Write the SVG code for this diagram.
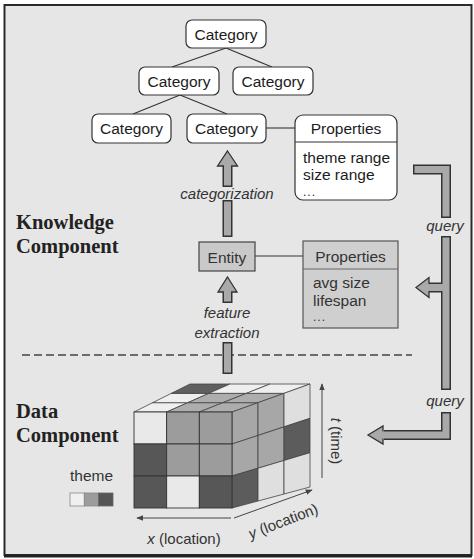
<svg xmlns="http://www.w3.org/2000/svg" width="474" height="559" viewBox="0 0 474 559">
<defs>
<style>
.t{font-family:"Liberation Sans",Arial,sans-serif;font-size:15.5px;fill:#1c1c1c}
.c{text-anchor:middle}
.dots{font-family:"Liberation Sans",Arial,sans-serif;font-size:12px;letter-spacing:1px}
.it{font-family:"Liberation Sans",Arial,sans-serif;font-style:italic;font-size:15px;fill:#333;text-anchor:middle}
.ax{font-family:"Liberation Sans",Arial,sans-serif;font-size:15px;fill:#333;text-anchor:middle}
.big{font-family:"Liberation Serif","Times New Roman",serif;font-weight:bold;font-size:20.5px;fill:#222}
.cat{fill:#fff;stroke:#333;stroke-width:1.2}
.ln{stroke:#333;stroke-width:1.1;fill:none}
.ol{stroke:#333;stroke-width:10;fill:none;stroke-linejoin:miter}
.in{stroke:#a9a9a9;stroke-width:7;fill:none;stroke-linejoin:miter}
.hd{fill:#a9a9a9;stroke:#333;stroke-width:1.3;stroke-linejoin:miter}
.f{stroke:#333;stroke-width:0.9}
.s{stroke:#444;stroke-width:0.8}
.Lf{fill:#e9e9e9}.Gf{fill:#9c9c9c}.Df{fill:#575757}
.Lr{fill:#dfdfdf}.Gr{fill:#a7a7a7}.Dr{fill:#5c5c5c}
.Lt{fill:#efefef}.Gt{fill:#adadad}.Dt{fill:#606060}
.axis{stroke:#444;stroke-width:1;fill:none}
</style>
<marker id="ah" viewBox="0 0 10 10" refX="9" refY="5" markerWidth="7" markerHeight="7" orient="auto" markerUnits="userSpaceOnUse">
<path d="M0,1 L10,5 L0,9 Z" fill="#444"/>
</marker>
</defs>

<rect x="0" y="0" width="474" height="559" fill="#ffffff"/>
<rect id="frame" x="4.5" y="5" width="467" height="550" fill="#e6e6e6" stroke="#2a2a2a" stroke-width="2"/>
<line x1="4" y1="556" x2="472" y2="556" stroke="#222" stroke-width="3"/>

<g id="connectors">
<line class="ln" x1="226" y1="48" x2="172" y2="67"/>
<line class="ln" x1="226" y1="48" x2="272" y2="67"/>
<line class="ln" x1="180" y1="95" x2="133" y2="114"/>
<line class="ln" x1="180" y1="95" x2="227" y2="114"/>
<line class="ln" x1="266" y1="128" x2="295" y2="128" stroke="#555"/>
<line class="ln" x1="255" y1="256" x2="303" y2="256" stroke="#555"/>
<line x1="22" y1="355" x2="412" y2="355" stroke="#444" stroke-width="1.3" stroke-dasharray="8 4"/>

<g id="arrow-outlines">
<path class="ol" d="M227.5,164 V187"/>
<path class="ol" d="M227.5,200 V237"/>
<path class="ol" d="M227.5,290 V303"/>
<path class="ol" d="M227.5,342 V374"/>
<path class="ol" d="M413,169.5 H446 V218"/>
<path class="ol" d="M446,236 V390"/>
<path class="ol" d="M446,287.5 H428"/>
<path class="ol" d="M446,412 V435 H384"/>
</g>
<g id="arrow-heads">
<polygon class="hd" points="227.5,151 237.5,166 217.5,166"/>
<polygon class="hd" points="227.5,277 237,292 218,292"/>
<polygon class="hd" points="416,287.5 429,277.5 429,297.5"/>
<polygon class="hd" points="368,435 383,426 383,444"/>
</g>
<g id="arrow-fills">
<path class="in" d="M227.5,164 V185.5"/>
<path class="in" d="M227.5,201.5 V235.5"/>
<path class="in" d="M227.5,290 V301.5"/>
<path class="in" d="M227.5,343.5 V372.5"/>
<path class="in" d="M414.5,169.5 H446 V216.5"/>
<path class="in" d="M446,237.5 V388.5"/>
<path class="in" d="M446,287.5 H427"/>
<path class="in" d="M446,413.5 V435 H382"/>
</g>
<text class="it" x="227" y="198.5">categorization</text>
<text class="it" x="227" y="318">feature</text>
<text class="it" x="227" y="338">extraction</text>
<text class="it" x="445" y="231">query</text>
<text class="it" x="445" y="406">query</text>
</g>

<g id="cat-top"><rect class="cat" x="186" y="20" width="80" height="28" rx="6"/><text class="t c" x="226" y="39.5">Category</text></g>
<g id="cat-l2a"><rect class="cat" x="139" y="67" width="80" height="28" rx="6"/><text class="t c" x="179" y="86.5">Category</text></g>
<g id="cat-l2b"><rect class="cat" x="233" y="67" width="80" height="28" rx="6"/><text class="t c" x="273" y="86.5">Category</text></g>
<g id="cat-l3a"><rect class="cat" x="92" y="114" width="79" height="29" rx="6"/><text class="t c" x="131.5" y="134">Category</text></g>
<g id="cat-l3b"><rect class="cat" x="187" y="114" width="79" height="29" rx="6"/><text class="t c" x="226.5" y="134">Category</text></g>

<g id="props-category">
<rect class="cat" x="295" y="115" width="102" height="85" rx="8"/>
<line x1="295" y1="142" x2="397" y2="142" stroke="#333" stroke-width="1.1"/>
<text class="t c" x="346" y="133.5">Properties</text>
<text class="t" x="303" y="162.5">theme range</text>
<text class="t" x="303" y="179.5">size range</text>
<text class="t dots" x="303" y="195.5">...</text>
</g>

<g id="entity">
<rect x="199" y="242" width="56" height="29" fill="#c9c9c9" stroke="#444" stroke-width="1.2"/>
<text class="t c" x="227" y="262.5" style="fill:#333">Entity</text>
</g>

<g id="props-entity">
<rect x="303" y="241" width="95" height="87" fill="#cfcfcf" stroke="#555" stroke-width="1.2"/>
<line x1="303" y1="269" x2="398" y2="269" stroke="#666" stroke-width="1"/>
<text class="t c" x="350.5" y="261.5" style="fill:#333">Properties</text>
<text class="t" x="313" y="288" style="fill:#333">avg size</text>
<text class="t" x="313" y="305.5" style="fill:#333">lifespan</text>
<text class="t dots" x="313" y="321" style="fill:#333">...</text>
</g>

<g id="knowledge-label">
<text class="big" x="16" y="228.5">Knowledge</text>
<text class="big" x="16" y="252.5">Component</text>
</g>
<g id="data-label">
<text class="big" x="16" y="418">Data</text>
<text class="big" x="16" y="442">Component</text>
</g>

<g id="legend">
<text class="t c" x="91.5" y="481" style="fill:#333">theme</text>
<rect x="70" y="493" width="14.3" height="13" fill="#f0f0f0" stroke="#888" stroke-width="0.8"/>
<rect x="84.3" y="493" width="14.3" height="13" fill="#9c9c9c" stroke="#888" stroke-width="0.8"/>
<rect x="98.6" y="493" width="14.4" height="13" fill="#555" stroke="#666" stroke-width="0.8"/>
</g>

<g id="cube">
<g id="cube-top">
<polygon class="Lt s" points="134,412 166.67,412 187.78,402.67 152.67,402.67"/>
<polygon class="Gt s" points="166.67,412 199.33,412 222.89,402.67 187.78,402.67"/>
<polygon class="Gt s" points="199.33,412 232,412 258,402.67 222.89,402.67"/>
<polygon class="Lt s" points="152.67,402.67 187.78,402.67 208.89,393.33 171.33,393.33"/>
<polygon class="Gt s" points="187.78,402.67 222.89,402.67 246.44,393.33 208.89,393.33"/>
<polygon class="Gt s" points="222.89,402.67 258,402.67 284,393.33 246.44,393.33"/>
<polygon class="Dt s" points="171.33,393.33 208.89,393.33 230,384 190,384"/>
<polygon class="Lt s" points="208.89,393.33 246.44,393.33 270,384 230,384"/>
<polygon class="Lt s" points="246.44,393.33 284,393.33 310,384 270,384"/>
</g>
<g id="cube-right">
<polygon class="Gr s" points="232,412 258,402.67 258,435.44 232,444"/>
<polygon class="Gr s" points="258,402.67 284,393.33 284,426.89 258,435.44"/>
<polygon class="Lr s" points="284,393.33 310,384 310,418.33 284,426.89"/>
<polygon class="Gr s" points="232,444 258,435.44 258,468.22 232,476"/>
<polygon class="Gr s" points="258,435.44 284,426.89 284,460.44 258,468.22"/>
<polygon class="Dr s" points="284,426.89 310,418.33 310,452.67 284,460.44"/>
<polygon class="Dr s" points="232,476 258,468.22 258,501 232,508"/>
<polygon class="Lr s" points="258,468.22 284,460.44 284,494 258,501"/>
<polygon class="Lr s" points="284,460.44 310,452.67 310,487 284,494"/>
</g>
<g id="cube-front">
<rect class="Lf f" x="134" y="412" width="32.67" height="32"/>
<rect class="Gf f" x="166.67" y="412" width="32.67" height="32"/>
<rect class="Gf f" x="199.33" y="412" width="32.67" height="32"/>
<rect class="Df f" x="134" y="444" width="32.67" height="32"/>
<rect class="Gf f" x="166.67" y="444" width="32.67" height="32"/>
<rect class="Gf f" x="199.33" y="444" width="32.67" height="32"/>
<rect class="Df f" x="134" y="476" width="32.67" height="32"/>
<rect class="Lf f" x="166.67" y="476" width="32.67" height="32"/>
<rect class="Df f" x="199.33" y="476" width="32.67" height="32"/>
</g>
<g id="axes">
<line class="axis" x1="231" y1="518" x2="137" y2="518" marker-end="url(#ah)"/>
<line class="axis" x1="234" y1="518" x2="312" y2="490" marker-end="url(#ah)"/>
<line class="axis" x1="322" y1="478" x2="322" y2="384" marker-end="url(#ah)"/>
<text class="ax" x="184" y="544"><tspan font-style="italic">x</tspan> (location)</text>
<text class="ax" transform="translate(285,526) rotate(-21)"><tspan font-style="italic">y</tspan> (location)</text>
<text class="ax" transform="translate(331,441) rotate(90)"><tspan font-style="italic">t</tspan> (time)</text>
</g>
</g>
</svg>
